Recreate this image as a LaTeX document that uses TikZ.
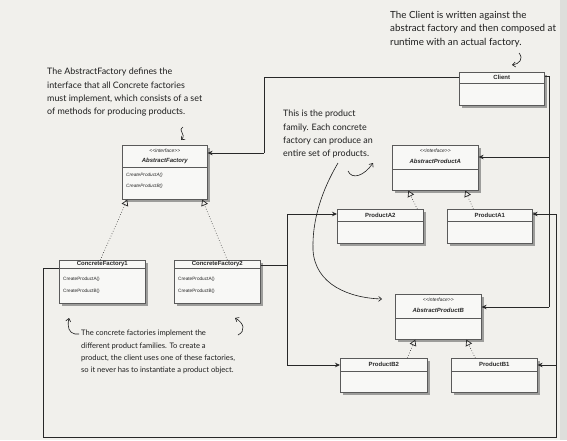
\documentclass[tikz,border=0pt]{standalone}
\usepackage{fontspec}
\setmainfont{Liberation Sans}
\newfontfamily\hand{Lato}
\usetikzlibrary{arrows.meta,shadows}
\definecolor{pagebg}{RGB}{241,240,236}
\definecolor{edgebg}{RGB}{222,222,219}
\definecolor{boxfill}{RGB}{248,248,246}
\definecolor{boxline}{RGB}{90,90,90}
\definecolor{ink}{RGB}{40,40,40}
\definecolor{handink}{RGB}{30,30,30}
\begin{document}
\begin{tikzpicture}[x=1pt,y=-1pt,
  umlbox/.style={draw=boxline, line width=0.6pt, fill=boxfill, anchor=north west, inner sep=0pt,
    drop shadow={shadow xshift=2.5pt, shadow yshift=-3pt, opacity=0.6, fill=black!60}},
  sepline/.style={draw=boxline, line width=0.5pt},
  ctitle/.style={font=\fontsize{6}{7}\selectfont\bfseries, text=ink, inner sep=0pt},
  ititle/.style={font=\fontsize{6}{7}\selectfont\bfseries\itshape, text=ink, inner sep=0pt},
  stereo/.style={font=\fontsize{5}{6}\selectfont\itshape, text=ink, inner sep=0pt},
  method/.style={font=\fontsize{4.7}{5.5}\selectfont, text=ink, anchor=west, inner sep=0pt},
  imethod/.style={method, font=\fontsize{4.7}{5.5}\selectfont\itshape},
  wire/.style={draw=ink, line width=0.75pt},
  assoc/.style={draw=ink, line width=0.75pt, -{Stealth[length=5pt,width=4.5pt]}},
  realize/.style={draw=ink, line width=0.6pt, dotted, -{Triangle[open,length=6pt,width=7pt,line width=0.7pt]}},
  note/.style={font=\hand\fontsize{8.9}{13.4}\selectfont, align=left, anchor=north west, inner sep=0pt, text=handink},
  widenote/.style={note, font=\hand\fontsize{9.8}{13.4}\selectfont},
  smallnote/.style={note, font=\hand\fontsize{7.6}{12.2}\selectfont},
  handarrow/.style={draw=handink, line width=0.6pt, -{Straight Barb[length=3pt,width=5pt]}}
]
\useasboundingbox (0,0) rectangle (567,440);
\fill[pagebg] (0,0) rectangle (567,440);
\fill[edgebg] (560,0) rectangle (567,440);

% ---------- classes ----------
\node[umlbox, minimum width=85pt, minimum height=33pt] (client) at (459,72) {};
\draw[sepline] ([yshift=-11pt]client.north west) -- ([yshift=-11pt]client.north east);
\node[ctitle] (clientT) at ([yshift=-5.5pt]client.north) {Client};

\node[umlbox, minimum width=85pt, minimum height=54pt] (af) at (122,145) {};
\draw[sepline] ([yshift=-22pt]af.north west) -- ([yshift=-22pt]af.north east);
\node[stereo] (afS) at ([yshift=-6pt]af.north) {<{}<interface>{}>};
\node[ititle] (afT) at ([yshift=-15.5pt]af.north) {AbstractFactory};
\node[imethod] (afM1) at ([xshift=4pt,yshift=-30pt]af.north west) {CreateProductA()};
\node[imethod] (afM2) at ([xshift=4pt,yshift=-41pt]af.north west) {CreateProductB()};

\node[umlbox, minimum width=86pt, minimum height=43pt] (cf1) at (59,260) {};
\draw[sepline] ([yshift=-8.5pt]cf1.north west) -- ([yshift=-8.5pt]cf1.north east);
\node[ctitle] (cf1T) at ([yshift=-4.3pt]cf1.north) {ConcreteFactory1};
\node[method] (cf1M1) at ([xshift=4pt,yshift=-19pt]cf1.north west) {CreateProductA()};
\node[method] (cf1M2) at ([xshift=4pt,yshift=-31pt]cf1.north west) {CreateProductB()};

\node[umlbox, minimum width=86pt, minimum height=43pt] (cf2) at (174,260) {};
\draw[sepline] ([yshift=-8.5pt]cf2.north west) -- ([yshift=-8.5pt]cf2.north east);
\node[ctitle] (cf2T) at ([yshift=-4.3pt]cf2.north) {ConcreteFactory2};
\node[method] (cf2M1) at ([xshift=4pt,yshift=-19pt]cf2.north west) {CreateProductA()};
\node[method] (cf2M2) at ([xshift=4pt,yshift=-31pt]cf2.north west) {CreateProductB()};

\node[umlbox, minimum width=86pt, minimum height=45pt] (apa) at (392,145) {};
\draw[sepline] ([yshift=-24pt]apa.north west) -- ([yshift=-24pt]apa.north east);
\node[stereo] (apaS) at ([yshift=-6pt]apa.north) {<{}<interface>{}>};
\node[ititle] (apaT) at ([yshift=-16pt]apa.north) {AbstractProductA};

\node[umlbox, minimum width=86pt, minimum height=34pt] (pa2) at (337,209) {};
\draw[sepline] ([yshift=-12pt]pa2.north west) -- ([yshift=-12pt]pa2.north east);
\node[ctitle] (pa2T) at ([yshift=-6pt]pa2.north) {ProductA2};

\node[umlbox, minimum width=85pt, minimum height=34pt] (pa1) at (447,209) {};
\draw[sepline] ([yshift=-12pt]pa1.north west) -- ([yshift=-12pt]pa1.north east);
\node[ctitle] (pa1T) at ([yshift=-6pt]pa1.north) {ProductA1};

\node[umlbox, minimum width=86pt, minimum height=45pt] (apb) at (395,294) {};
\draw[sepline] ([yshift=-24pt]apb.north west) -- ([yshift=-24pt]apb.north east);
\node[stereo] (apbS) at ([yshift=-6pt]apb.north) {<{}<interface>{}>};
\node[ititle] (apbT) at ([yshift=-16pt]apb.north) {AbstractProductB};

\node[umlbox, minimum width=87pt, minimum height=34pt] (pb2) at (340,358) {};
\draw[sepline] ([yshift=-13pt]pb2.north west) -- ([yshift=-13pt]pb2.north east);
\node[ctitle] (pb2T) at ([yshift=-6.5pt]pb2.north) {ProductB2};

\node[umlbox, minimum width=86pt, minimum height=34pt] (pb1) at (451,358) {};
\draw[sepline] ([yshift=-13pt]pb1.north west) -- ([yshift=-13pt]pb1.north east);
\node[ctitle] (pb1T) at ([yshift=-6.5pt]pb1.north) {ProductB1};

% ---------- realizations ----------
\draw[realize] ([xshift=-2pt]cf1.north) -- ([xshift=-37.5pt]af.south);
\draw[realize] ([xshift=10pt]cf2.north) -- ([xshift=37.5pt]af.south);
\draw[realize] ([xshift=37pt]pa2.north) -- ([xshift=-27pt]apa.south);
\draw[realize] ([xshift=-16.5pt]pa1.north) -- ([xshift=30pt]apa.south);
\draw[realize] ([xshift=23.5pt]pb2.north) -- ([xshift=-23pt]apb.south);
\draw[realize] ([xshift=-19pt]pb1.north) -- ([xshift=28pt]apb.south);

% ---------- associations ----------
\coordinate (cl1) at (264,77);
\coordinate (afIn) at (264,153);
\draw[wire] (client.west |- cl1) -- (cl1) -- (afIn);
\draw[assoc] (afIn) -- (af.east |- afIn);

\coordinate (cr0) at (549,76);
\coordinate (crA) at (549,157);
\coordinate (crB) at (549,307);
\draw[wire] (client.east |- cr0) -- (cr0) -- (crB);
\draw[assoc] (crA) -- (apa.east |- crA);
\draw[assoc] (crB) -- (apb.east |- crB);

\coordinate (f1a) at (43,268);
\coordinate (f1b) at (43,437);
\coordinate (f1c) at (556,437);
\coordinate (f1A) at (556,214);
\coordinate (f1B) at (556,365);
\draw[wire] (cf1.west |- f1a) -- (f1a) -- (f1b) -- (f1c) -- (f1A);
\draw[assoc] (f1A) -- (pa1.east |- f1A);
\draw[assoc] (f1B) -- (pb1.east |- f1B);

\coordinate (f2a) at (287,265);
\coordinate (f2A) at (287,214);
\coordinate (f2B) at (287,365);
\draw[wire] (cf2.east |- f2a) -- (f2a);
\draw[wire] (f2A) -- (f2B);
\draw[assoc] (f2A) -- (pa2.west |- f2A);
\draw[assoc] (f2B) -- (pb2.west |- f2B);

% ---------- annotations ----------
\node[note] (n1) at (47,68) {The AbstractFactory defines the\\interface that all Concrete factories\\must implement, which consists of a set\\of methods for producing products.};
\node[widenote] (n2) at (390,11) {The Client is written against the\\abstract factory and then composed at\\runtime with an actual factory.};
\node[note] (n3) at (283,110) {This is the product\\family.  Each concrete\\factory can produce an\\entire set of products.};
\node[smallnote] (n4) at (81,330) {The concrete factories implement the\\different product families.  To create a\\product, the client uses one of these factories,\\so it never has to instantiate a product object.};

\coordinate (h1s) at (183,127);
\coordinate (h1e) at (181,140);
\draw[handarrow] (h1s) .. controls (177,131) and (187,134) .. (h1e);
\coordinate (h2s) at (519,53);
\coordinate (h2e) at (512,65);
\draw[handarrow] (h2s) .. controls (524,59) and (519,64) .. (h2e);
\coordinate (h3s) at (348,171);
\coordinate (h3e) at (373,163);
\draw[handarrow] (h3s) .. controls (352,180) and (364,176) .. (h3e);
\coordinate (h4s) at (338,163);
\coordinate (h4m) at (313,250);
\coordinate (h4e) at (382,299);
\draw[handarrow] (h4s) .. controls (322,190) and (312,220) .. (h4m) .. controls (315,285) and (350,298) .. (h4e);
\coordinate (h5s) at (79,334);
\coordinate (h5e) at (69,318);
\draw[handarrow] (h5s) -- (75,334) .. controls (69,333) and (67,327) .. (h5e);
\coordinate (h6s) at (238,335);
\coordinate (h6e) at (235,318);
\draw[handarrow] (h6s) .. controls (246,331) and (244,323) .. (h6e);
\end{tikzpicture}
\end{document}
